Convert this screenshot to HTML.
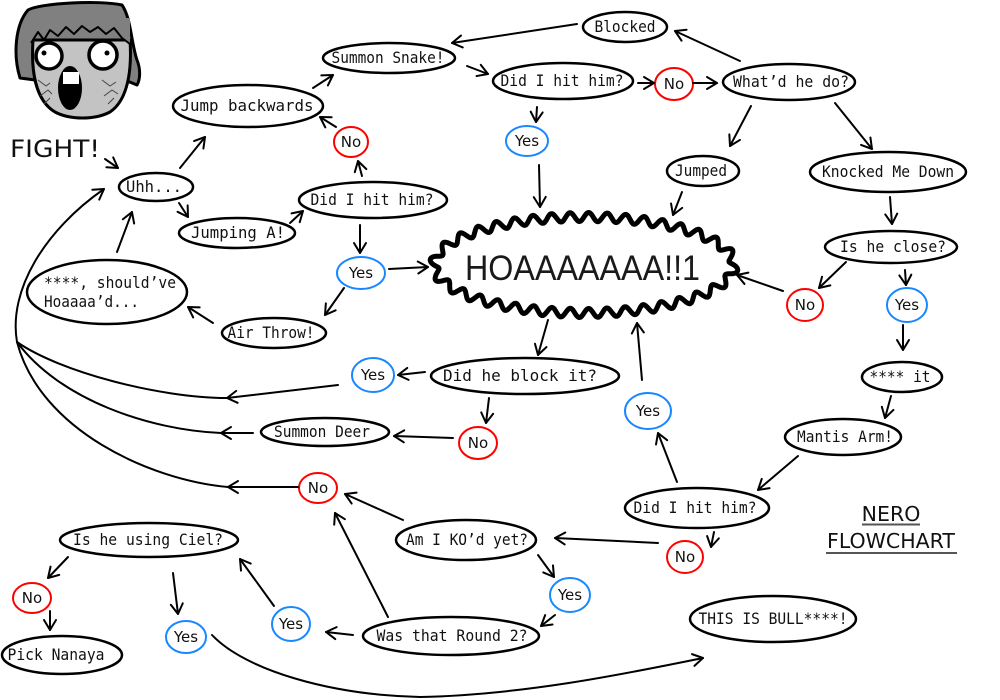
<!DOCTYPE html>
<html><head><meta charset="utf-8"><style>
html,body{margin:0;padding:0;background:#fff;}
svg{display:block}
.e{fill:#fff;stroke:#000;stroke-width:2.5}
.r{fill:#fff;stroke:#f00;stroke-width:2}
.b{fill:#fff;stroke:#1a87ff;stroke-width:2}
.t{font-family:"DejaVu Sans Mono","Liberation Mono",monospace;font-size:16px;fill:#111;text-anchor:middle}
.y{font-family:"DejaVu Sans","Liberation Sans",sans-serif;font-size:15px;fill:#111;text-anchor:middle}
.l{fill:none;stroke:#000;stroke-width:2;stroke-linecap:round}
</style></head><body>
<svg width="1000" height="700" viewBox="0 0 1000 700" xmlns="http://www.w3.org/2000/svg">
<defs>
<marker id="a" markerUnits="userSpaceOnUse" markerWidth="16" markerHeight="16" refX="11" refY="6" orient="auto" style="overflow:visible"><path d="M1,0 L11,6 L1,12" fill="none" stroke="#000" stroke-width="2" stroke-linecap="round" stroke-linejoin="round"/></marker>
</defs>

<!-- Face -->
<g stroke="#000" stroke-linejoin="round">
<path d="M20,78 C13,55 15,25 28,10 C40,3 100,0 122,5 C131,18 131,42 137,60 C141,70 140,80 137,85 L125,80 L35,80 Z" fill="#808080" stroke-width="3"/>
<path d="M33,40 C31,70 35,100 55,112 C70,120 95,120 110,112 C128,100 132,70 130,40 Z" fill="#c3c3c3" stroke-width="3"/>
<path d="M31,43 L38,32 L44,40 L50,30 L58,36 L66,27 L74,34 L82,26 L90,32 L98,27 L106,34 L114,28 L122,38 L130,44 L130,18 L31,18 Z" fill="#808080" stroke="none"/>
<path d="M31,43 L38,32 L44,40 L50,30 L58,36 L66,27 L74,34 L82,26 L90,32 L98,27 L106,34 L114,28 L122,38 L130,44" fill="none" stroke-width="2"/>
<circle cx="49" cy="56" r="13" fill="#fff" stroke-width="3.5"/>
<circle cx="103" cy="55" r="14" fill="#fff" stroke-width="3.5"/>
<circle cx="44" cy="53" r="2.5" fill="#000" stroke="none"/>
<circle cx="107" cy="53" r="2.5" fill="#000" stroke="none"/>
<ellipse cx="70" cy="88" rx="12" ry="22" fill="#000" stroke="none"/>
<rect x="63" y="72" width="16" height="12" fill="#fff" stroke="none"/>
<g fill="none" stroke="#444" stroke-width="1">
<path d="M38,80 L46,86 L50,83 M40,96 L48,90 L52,94 M44,104 L50,98"/>
<path d="M102,80 L110,86 L116,82 M104,96 L112,90 L118,94 M108,104 L114,98"/>
</g>
</g>

<text x="10" y="157" textLength="90" lengthAdjust="spacingAndGlyphs" style="font-family:'DejaVu Sans','Liberation Sans',sans-serif;font-size:24px;fill:#111">FIGHT!</text>

<!-- Cloud -->
<path id="cl" d="M734,265 A150,48 0 1,1 434,265 A150,48 0 1,1 734,265 Z" fill="#fff" stroke="#000" stroke-width="5" stroke-linejoin="round"/>
<text x="465" y="280" textLength="235" lengthAdjust="spacingAndGlyphs" style="font-family:'Liberation Sans',sans-serif;font-size:35px;fill:#1a1a1a">HOAAAAAAA!!1</text>

<!-- Black ellipses -->
<ellipse class="e" cx="248" cy="106" rx="75" ry="21"/>
<ellipse class="e" cx="389" cy="58" rx="66" ry="15"/>
<ellipse class="e" cx="625" cy="27" rx="42" ry="15"/>
<ellipse class="e" cx="563" cy="81" rx="70" ry="18"/>
<ellipse class="e" cx="789" cy="82" rx="66" ry="18"/>
<ellipse class="e" cx="703" cy="171" rx="36" ry="15"/>
<ellipse class="e" cx="888" cy="172" rx="78" ry="20"/>
<ellipse class="e" cx="156" cy="187" rx="37" ry="14"/>
<ellipse class="e" cx="373" cy="200" rx="74" ry="18"/>
<ellipse class="e" cx="237" cy="233" rx="58" ry="15"/>
<ellipse class="e" cx="891" cy="247" rx="66" ry="16"/>
<ellipse class="e" cx="107" cy="292" rx="80" ry="32"/>
<ellipse class="e" cx="274" cy="333" rx="52" ry="15"/>
<ellipse class="e" cx="525" cy="376" rx="94" ry="18"/>
<ellipse class="e" cx="325" cy="432" rx="64" ry="14"/>
<ellipse class="e" cx="902" cy="377" rx="40" ry="15"/>
<ellipse class="e" cx="843" cy="437" rx="58" ry="18"/>
<ellipse class="e" cx="697" cy="508" rx="72" ry="20"/>
<ellipse class="e" cx="466" cy="540" rx="70" ry="20"/>
<ellipse class="e" cx="149" cy="540" rx="89" ry="17"/>
<ellipse class="e" cx="451" cy="636" rx="88" ry="19"/>
<ellipse class="e" cx="773" cy="619" rx="83" ry="23"/>
<ellipse class="e" cx="62" cy="655" rx="60" ry="19"/>

<!-- Labels -->
<text class="t" x="247" y="111" textLength="133" lengthAdjust="spacingAndGlyphs">Jump backwards</text>
<text class="t" x="388" y="63" textLength="113" lengthAdjust="spacingAndGlyphs">Summon Snake!</text>
<text class="t" x="625" y="32" textLength="61" lengthAdjust="spacingAndGlyphs">Blocked</text>
<text class="t" x="562" y="86" textLength="123" lengthAdjust="spacingAndGlyphs">Did I hit him?</text>
<text class="t" x="791" y="87" textLength="116" lengthAdjust="spacingAndGlyphs">What’d he do?</text>
<text class="t" x="701" y="176" textLength="52" lengthAdjust="spacingAndGlyphs">Jumped</text>
<text class="t" x="888" y="177" textLength="132" lengthAdjust="spacingAndGlyphs">Knocked Me Down</text>
<text class="t" x="154" y="192" textLength="56" lengthAdjust="spacingAndGlyphs">Uhh...</text>
<text class="t" x="372" y="205" textLength="123" lengthAdjust="spacingAndGlyphs">Did I hit him?</text>
<text class="t" x="238" y="238" textLength="94" lengthAdjust="spacingAndGlyphs">Jumping A!</text>
<text class="t" x="893" y="252" textLength="106" lengthAdjust="spacingAndGlyphs">Is he close?</text>
<text class="t" x="44" y="288" textLength="132" lengthAdjust="spacingAndGlyphs" style="text-anchor:start">****, should’ve</text>
<text class="t" x="44" y="307" textLength="95" lengthAdjust="spacingAndGlyphs" style="text-anchor:start">Hoaaaa’d...</text>
<text class="t" x="271" y="338" textLength="87" lengthAdjust="spacingAndGlyphs">Air Throw!</text>
<text class="t" x="520" y="381" textLength="154" lengthAdjust="spacingAndGlyphs">Did he block it?</text>
<text class="t" x="322" y="437" textLength="96" lengthAdjust="spacingAndGlyphs">Summon Deer</text>
<text class="t" x="900" y="382" textLength="61" lengthAdjust="spacingAndGlyphs">**** it</text>
<text class="t" x="845" y="442" textLength="96" lengthAdjust="spacingAndGlyphs">Mantis Arm!</text>
<text class="t" x="695" y="513" textLength="123" lengthAdjust="spacingAndGlyphs">Did I hit him?</text>
<text class="t" x="467" y="545" textLength="122" lengthAdjust="spacingAndGlyphs">Am I KO’d yet?</text>
<text class="t" x="148" y="545" textLength="150" lengthAdjust="spacingAndGlyphs">Is he using Ciel?</text>
<text class="t" x="452" y="641" textLength="151" lengthAdjust="spacingAndGlyphs">Was that Round 2?</text>
<text class="t" x="773" y="624" textLength="149" lengthAdjust="spacingAndGlyphs">THIS IS BULL****!</text>
<text class="t" x="56" y="660" textLength="97" lengthAdjust="spacingAndGlyphs">Pick Nanaya</text>

<!-- Red No -->
<ellipse class="r" cx="674" cy="84" rx="19" ry="16"/><text class="y" x="674" y="89">No</text>
<ellipse class="r" cx="351" cy="142" rx="17" ry="15"/><text class="y" x="351" y="147">No</text>
<ellipse class="r" cx="805" cy="305" rx="18" ry="16"/><text class="y" x="805" y="310">No</text>
<ellipse class="r" cx="478" cy="443" rx="19" ry="16"/><text class="y" x="478" y="448">No</text>
<ellipse class="r" cx="685" cy="557" rx="18" ry="16"/><text class="y" x="685" y="562">No</text>
<ellipse class="r" cx="318" cy="488" rx="19" ry="15"/><text class="y" x="318" y="493">No</text>
<ellipse class="r" cx="32" cy="598" rx="19" ry="15"/><text class="y" x="32" y="603">No</text>

<!-- Blue Yes -->
<ellipse class="b" cx="527" cy="141" rx="21" ry="15"/><text class="y" x="527" y="146">Yes</text>
<ellipse class="b" cx="907" cy="305" rx="20" ry="17"/><text class="y" x="907" y="310">Yes</text>
<ellipse class="b" cx="361" cy="273" rx="24" ry="16"/><text class="y" x="361" y="278">Yes</text>
<ellipse class="b" cx="373" cy="375" rx="21" ry="17"/><text class="y" x="373" y="380">Yes</text>
<ellipse class="b" cx="648" cy="411" rx="23" ry="18"/><text class="y" x="648" y="416">Yes</text>
<ellipse class="b" cx="570" cy="595" rx="20" ry="17"/><text class="y" x="570" y="600">Yes</text>
<ellipse class="b" cx="291" cy="624" rx="19" ry="17"/><text class="y" x="291" y="629">Yes</text>
<ellipse class="b" cx="186" cy="637" rx="20" ry="16"/><text class="y" x="186" y="642">Yes</text>

<!-- NERO FLOWCHART -->
<text x="891" y="521" style="font-family:'DejaVu Sans','Liberation Sans',sans-serif;font-size:20.5px;fill:#111;text-anchor:middle">NERO</text>
<text x="891" y="548" style="font-family:'DejaVu Sans','Liberation Sans',sans-serif;font-size:20.5px;fill:#111;text-anchor:middle">FLOWCHART</text>
<line x1="862" y1="524.5" x2="920" y2="524.5" stroke="#555" stroke-width="2"/>
<line x1="826" y1="553" x2="957" y2="553" stroke="#555" stroke-width="2"/>

<!-- Arrows -->
<g class="l">
<path class="l" d="M105,159 L118,168" marker-end="url(#a)"/>
<path class="l" d="M180,168 L205,137" marker-end="url(#a)"/>
<path class="l" d="M179,203 L188,217" marker-end="url(#a)"/>
<path class="l" d="M313,88 L333,75" marker-end="url(#a)"/>
<path class="l" d="M336,127 L320,117" marker-end="url(#a)"/>
<path class="l" d="M362,176 L358,161" marker-end="url(#a)"/>
<path class="l" d="M290,223 L303,211" marker-end="url(#a)"/>
<path class="l" d="M360,225 L360,253" marker-end="url(#a)"/>
<path class="l" d="M389,269 L428,267" marker-end="url(#a)"/>
<path class="l" d="M344,288 L325,315" marker-end="url(#a)"/>
<path class="l" d="M213,323 L188,307" marker-end="url(#a)"/>
<path class="l" d="M117,252 L132,212" marker-end="url(#a)"/>
<path class="l" d="M577,24 L452,43" marker-end="url(#a)"/>
<path class="l" d="M467,66 L488,74" marker-end="url(#a)"/>
<path class="l" d="M537,107 L536,122" marker-end="url(#a)"/>
<path class="l" d="M638,83 L654,83" marker-end="url(#a)"/>
<path class="l" d="M539,165 L540,207" marker-end="url(#a)"/>
<path class="l" d="M693,83 L717,83" marker-end="url(#a)"/>
<path class="l" d="M740,61 L675,31" marker-end="url(#a)"/>
<path class="l" d="M751,106 L730,146" marker-end="url(#a)"/>
<path class="l" d="M835,103 L872,149" marker-end="url(#a)"/>
<path class="l" d="M682,192 L673,215" marker-end="url(#a)"/>
<path class="l" d="M890,197 L892,224" marker-end="url(#a)"/>
<path class="l" d="M846,262 L819,288" marker-end="url(#a)"/>
<path class="l" d="M905,270 L906,285" marker-end="url(#a)"/>
<path class="l" d="M783,291 L737,275" marker-end="url(#a)"/>
<path class="l" d="M903,325 L903,350" marker-end="url(#a)"/>
<path class="l" d="M891,396 L885,418" marker-end="url(#a)"/>
<path class="l" d="M798,456 L758,490" marker-end="url(#a)"/>
<path class="l" d="M677,482 L658,433" marker-end="url(#a)"/>
<path class="l" d="M642,380 L637,323" marker-end="url(#a)"/>
<path class="l" d="M548,320 L538,355" marker-end="url(#a)"/>
<path class="l" d="M425,372 L398,375" marker-end="url(#a)"/>
<path class="l" d="M489,398 L486,423" marker-end="url(#a)"/>
<path class="l" d="M453,438 L394,436" marker-end="url(#a)"/>
<path class="l" d="M714,532 L711,547" marker-end="url(#a)"/>
<path class="l" d="M658,543 L555,538" marker-end="url(#a)"/>
<path class="l" d="M538,555 L554,577" marker-end="url(#a)"/>
<path class="l" d="M555,615 L541,626" marker-end="url(#a)"/>
<path class="l" d="M353,635 L326,632" marker-end="url(#a)"/>
<path class="l" d="M388,617 L335,513" marker-end="url(#a)"/>
<path class="l" d="M403,520 L345,494" marker-end="url(#a)"/>
<path class="l" d="M274,606 L240,559" marker-end="url(#a)"/>
<path class="l" d="M68,557 L48,578" marker-end="url(#a)"/>
<path class="l" d="M50,611 L50,630" marker-end="url(#a)"/>
<path class="l" d="M173,573 L178,614" marker-end="url(#a)"/>
<path class="l" d="M212,635 C245,670 330,695 420,697 C520,695 620,675 703,658" marker-end="url(#a)"/>
<path class="l" d="M338,385 L227,398" marker-end="url(#a)"/>
<path class="l" d="M227,398 C160,398 60,372 17,342"/>
<path class="l" d="M253,433 L221,433" marker-end="url(#a)"/>
<path class="l" d="M221,433 C150,430 60,400 17,342"/>
<path class="l" d="M298,487 L228,487" marker-end="url(#a)"/>
<path class="l" d="M228,487 C150,480 40,430 17,342"/>
<path class="l" d="M17,342 C8,290 45,230 104,189" marker-end="url(#a)"/>
</g>
</svg>
<script>
(function(){var cx=584,cy=265,rx=150,ry=48,n=2000,pts=[],L=0,px,py;
for(var i=0;i<=n;i++){var t=i/n*2*Math.PI,x=cx+rx*Math.cos(t),y=cy+ry*Math.sin(t);if(i)L+=Math.hypot(x-px,y-py);pts.push([t,L,x,y]);px=x;py=y;}
var W=36,A=4.5,d='';
for(var j=0;j<=n;j+=2){var p=pts[j],t=p[0],nx=Math.cos(t)/rx,ny=Math.sin(t)/ry,l=Math.hypot(nx,ny);nx/=l;ny/=l;var a=A*Math.sin(2*Math.PI*W*p[1]/L);d+=(j?'L':'M')+(p[2]+nx*a).toFixed(1)+','+(p[3]+ny*a).toFixed(1);}
document.getElementById('cl').setAttribute('d',d+'Z');})();
</script>
</body></html>
